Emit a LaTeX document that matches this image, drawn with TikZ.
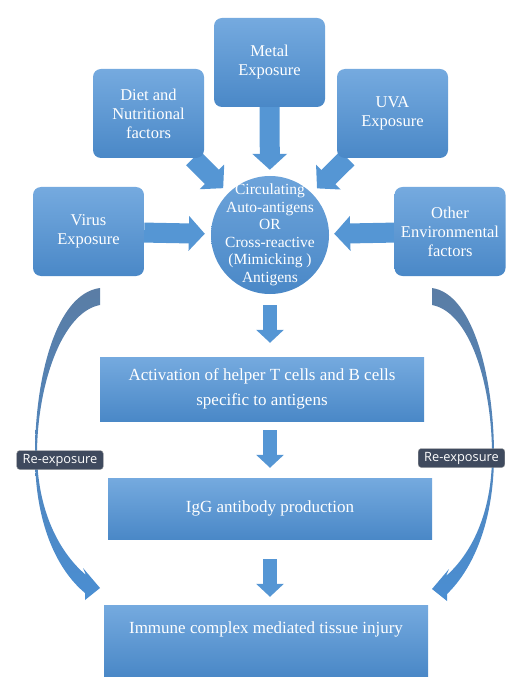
\documentclass[tikz,border=0pt]{standalone}
\usepackage{fontspec}
\setmainfont{Liberation Serif}
\newfontfamily\tagfont{Open Sans}
\usetikzlibrary{arrows.meta,backgrounds}
\definecolor{boxtop}{HTML}{75AADF}
\definecolor{boxbot}{HTML}{4A88C7}
\definecolor{arrblue}{HTML}{5596D4}
\definecolor{curvtop}{HTML}{5A7DA5}
\definecolor{curvbot}{HTML}{4A8ED2}
\definecolor{tagfill}{HTML}{3F4A5E}
\begin{document}
\begin{tikzpicture}[x=1pt,y=-1pt,
    src/.style={rounded corners=8pt,top color=boxtop,bottom color=boxbot,text=white,align=center,minimum width=111pt,minimum height=89pt,inner sep=1pt,font=\fontsize{16.5}{19}\selectfont},
    stage/.style={top color=boxtop,bottom color=boxbot,text=white,align=center,minimum width=324pt,inner sep=0pt,font=\fontsize{17}{25}\selectfont},
    bigarr/.style={arrblue,line width=20pt,-{Triangle[width=34pt,length=16pt]}},
    smallarr/.style={arrblue,line width=14pt,-{Triangle[width=27pt,length=13pt]}},
    tag/.style={fill=tagfill,draw=gray!70,rounded corners=3pt,text=white,font=\tagfont\fontsize{12.8}{13}\selectfont,inner xsep=6pt,inner ysep=2pt,minimum height=19pt}]
    \useasboundingbox (0,0) rectangle (524,700);
    \node[src] (metal) at (269.5,62.5) {Metal\\Exposure};
    \node[src] (diet) at (148.5,113.5) {Diet and\\Nutritional\\factors};
    \node[src] (uva) at (392.5,113.5) {UVA\\Exposure};
    \node[src] (virus) at (88.5,231.5) {Virus\\Exposure};
    \node[src] (other) at (450,231.5) {Other\\Environmental\\factors};
    \node[circle,minimum size=118pt,inner sep=-12pt,top color=boxtop!80!boxbot,bottom color=boxbot,text=white,align=center,font=\fontsize{15.5}{17.5}\selectfont] (antigen) at (270,235) {Circulating\\Auto-antigens\\OR\\Cross-reactive\\(Mimicking )\\Antigens};
    \node[stage,minimum height=64pt] (activ) at (262,389) {Activation of helper T cells and B cells\\specific to antigens};
    \node[stage,minimum height=61pt] (igg) at (270,508.5) {IgG antibody production};
    \node[stage,minimum height=71pt] (injury) at (266,640.5) {Immune complex mediated tissue injury\\\mbox{}};
    \begin{scope}[on background layer]
        \draw[bigarr,shorten >=6pt] (metal) -- (antigen);
        \draw[bigarr,shorten >=7pt] (diet) -- (antigen);
        \draw[bigarr,shorten >=7pt] (uva) -- (antigen);
        \draw[bigarr,shorten >=6pt] (virus) -- (antigen);
        \draw[bigarr,shorten >=5pt] (other) -- (antigen);
        \draw[smallarr,shorten <=11pt,shorten >=14pt] (antigen.south) -- (antigen.south |- activ.north);
        \draw[smallarr,shorten <=9pt,shorten >=10pt] (activ.south -| igg.north) -- (igg.north);
        \draw[smallarr,shorten <=20pt,shorten >=8pt] (igg.south) -- (igg.south |- injury.north);
    \end{scope}
    \shade[top color=curvtop,bottom color=curvbot] (100,288) .. controls (55,294) and (35,380) .. (35,455) .. controls (35,520) and (55,568) .. (85,593) -- (85,600) -- (100,588) -- (83,568) -- (86,575) .. controls (62,555) and (38,515) .. (37,455) .. controls (37,385) and (62,312) .. (100,305) -- cycle;
    \shade[top color=curvtop,bottom color=curvbot] (432,288) .. controls (474,294) and (494,380) .. (494,455) .. controls (494,520) and (474,568) .. (447,594) -- (447,601) -- (432,589) -- (449,569) -- (446,576) .. controls (470,555) and (492,515) .. (492,455) .. controls (492,385) and (470,312) .. (432,305) -- cycle;
    \node[tag] (tagL) at (60,460) {Re-exposure};
    \node[tag] (tagR) at (461.5,458) {Re-exposure};
\end{tikzpicture}
\end{document}
